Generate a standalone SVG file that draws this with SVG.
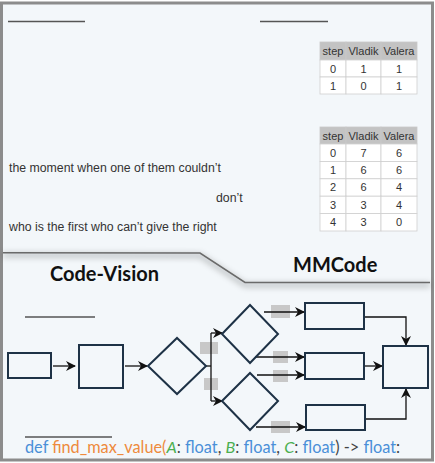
<svg xmlns="http://www.w3.org/2000/svg" width="435" height="463" viewBox="0 0 435 463">
<style>
.t{font-family:"Liberation Sans",Arial,sans-serif;font-size:12.3px;fill:#333}
.tb{font-family:"Liberation Sans",Arial,sans-serif;font-size:11px;fill:#333;text-anchor:middle}
.hd{fill:#c3c3c3;stroke:#c8c8c8;stroke-width:0.8}
.cl{fill:#fff;stroke:#cfcfcf;stroke-width:0.8}
.ul{stroke:#555;stroke-width:1.3}
.title{font-family:Lato,"Open Sans",sans-serif;font-weight:bold;font-size:20px;fill:#111}
.box{fill:none;stroke:#1e3246;stroke-width:2}
.cn{fill:none;stroke:#111;stroke-width:1.3}
.gb{fill:#c8c8c8}
.code{font-family:Lato,"Open Sans",sans-serif;font-size:16.3px}
</style>
<defs>
<marker id="ah" viewBox="0 0 10 10" refX="9" refY="5" markerWidth="10" markerHeight="10" markerUnits="userSpaceOnUse" orient="auto">
<path d="M0,0 L10,5 L0,10 L3,5 Z" fill="#111"/>
</marker>
<filter id="sh" x="-5%" y="-50%" width="110%" height="200%">
<feGaussianBlur stdDeviation="3"/>
</filter>
</defs>
<rect x="1.5" y="3" width="431" height="457" fill="#f3f7fa" stroke="#8c8c8c" stroke-width="3"/>

<g id="top-lines">
<line class="ul" x1="8" y1="21.5" x2="85" y2="21.5"/>
<line class="ul" x1="260" y1="21.5" x2="328" y2="21.5"/>
</g>

<g id="table1">
<rect class="hd" x="320" y="42" width="26" height="18"/>
<rect class="hd" x="346" y="42" width="35" height="18"/>
<rect class="hd" x="381" y="42" width="36" height="18"/>
<rect class="cl" x="320" y="60" width="26" height="17"/>
<rect class="cl" x="346" y="60" width="35" height="17"/>
<rect class="cl" x="381" y="60" width="36" height="17"/>
<rect class="cl" x="320" y="77" width="26" height="17"/>
<rect class="cl" x="346" y="77" width="35" height="17"/>
<rect class="cl" x="381" y="77" width="36" height="17"/>
<text class="tb" x="333" y="55">step</text><text class="tb" x="363.5" y="55">Vladik</text><text class="tb" x="399" y="55">Valera</text>
<text class="tb" x="333" y="72.5">0</text><text class="tb" x="363.5" y="72.5">1</text><text class="tb" x="399" y="72.5">1</text>
<text class="tb" x="333" y="89.5">1</text><text class="tb" x="363.5" y="89.5">0</text><text class="tb" x="399" y="89.5">1</text>
</g>

<g id="table2">
<rect class="hd" x="320" y="127" width="26" height="17"/>
<rect class="hd" x="346" y="127" width="35" height="17"/>
<rect class="hd" x="381" y="127" width="36" height="17"/>
<g>
<rect class="cl" x="320" y="144" width="26" height="17.4"/><rect class="cl" x="346" y="144" width="35" height="17.4"/><rect class="cl" x="381" y="144" width="36" height="17.4"/>
<rect class="cl" x="320" y="161.4" width="26" height="17.4"/><rect class="cl" x="346" y="161.4" width="35" height="17.4"/><rect class="cl" x="381" y="161.4" width="36" height="17.4"/>
<rect class="cl" x="320" y="178.8" width="26" height="17.4"/><rect class="cl" x="346" y="178.8" width="35" height="17.4"/><rect class="cl" x="381" y="178.8" width="36" height="17.4"/>
<rect class="cl" x="320" y="196.2" width="26" height="17.4"/><rect class="cl" x="346" y="196.2" width="35" height="17.4"/><rect class="cl" x="381" y="196.2" width="36" height="17.4"/>
<rect class="cl" x="320" y="213.6" width="26" height="17.4"/><rect class="cl" x="346" y="213.6" width="35" height="17.4"/><rect class="cl" x="381" y="213.6" width="36" height="17.4"/>
</g>
<text class="tb" x="333" y="139.5">step</text><text class="tb" x="363.5" y="139.5">Vladik</text><text class="tb" x="399" y="139.5">Valera</text>
<text class="tb" x="333" y="156.5">0</text><text class="tb" x="363.5" y="156.5">7</text><text class="tb" x="399" y="156.5">6</text>
<text class="tb" x="333" y="173.9">1</text><text class="tb" x="363.5" y="173.9">6</text><text class="tb" x="399" y="173.9">6</text>
<text class="tb" x="333" y="191.3">2</text><text class="tb" x="363.5" y="191.3">6</text><text class="tb" x="399" y="191.3">4</text>
<text class="tb" x="333" y="208.7">3</text><text class="tb" x="363.5" y="208.7">3</text><text class="tb" x="399" y="208.7">4</text>
<text class="tb" x="333" y="226.1">4</text><text class="tb" x="363.5" y="226.1">3</text><text class="tb" x="399" y="226.1">0</text>
</g>

<g id="texts">
<text class="t" x="9" y="172">the moment when one of them couldn’t</text>
<text class="t" x="216" y="202">don’t</text>
<text class="t" x="9" y="231">who is the first who can’t give the right</text>
</g>

<g id="divider">
<path d="M3,255 L200,255.5 L245,285 L430,285" fill="none" stroke="#000" stroke-opacity="0.35" stroke-width="3" filter="url(#sh)"/>
<path d="M3,252.7 L200,253 L245,282.5 L430,282.5" fill="none" stroke="#6a6a6a" stroke-width="1.5"/>
</g>
<g id="tab-codevision"><text class="title" x="50" y="281">Code-Vision</text></g>
<g id="tab-mmcode"><text class="title" x="293" y="272">MMCode</text></g>

<g id="bottom-lines">
<line class="ul" x1="25" y1="317" x2="95" y2="317"/>
<line class="ul" x1="25" y1="437" x2="112" y2="437"/>
</g>

<g id="gray-boxes">
<rect class="gb" x="200" y="342" width="18" height="12"/>
<rect class="gb" x="204" y="378" width="14" height="12"/>
<rect class="gb" x="271" y="305" width="19" height="13"/>
<rect class="gb" x="273" y="351" width="15" height="12"/>
<rect class="gb" x="273" y="370" width="15" height="12"/>
<rect class="gb" x="271" y="421" width="19" height="12"/>
</g>

<g id="connectors">
<line class="cn" x1="53" y1="366" x2="75" y2="366" marker-end="url(#ah)"/>
<line class="cn" x1="125" y1="366" x2="147" y2="366" marker-end="url(#ah)"/>
<line class="cn" x1="206" y1="366" x2="211" y2="366"/>
<line class="cn" x1="211" y1="333" x2="211" y2="401"/>
<line class="cn" x1="211" y1="333" x2="222" y2="333" marker-end="url(#ah)"/>
<line class="cn" x1="211" y1="401" x2="222" y2="401" marker-end="url(#ah)"/>
<line class="cn" x1="264" y1="312" x2="304" y2="312" marker-end="url(#ah)"/>
<line class="cn" x1="255" y1="357" x2="304" y2="357" marker-end="url(#ah)"/>
<line class="cn" x1="257" y1="375" x2="304" y2="375" marker-end="url(#ah)"/>
<line class="cn" x1="256" y1="427" x2="305" y2="427" marker-end="url(#ah)"/>
<line class="cn" x1="365" y1="366" x2="382" y2="366" marker-end="url(#ah)"/>
<polyline class="cn" points="364,317 406,317 406,345" marker-end="url(#ah)"/>
<polyline class="cn" points="365,419 406,419 406,389" marker-end="url(#ah)"/>
</g>

<g id="rect1"><rect class="box" x="8" y="353" width="43" height="25"/></g>
<g id="rect2"><rect class="box" x="79" y="345" width="44" height="43"/></g>
<g id="diamond1"><polygon class="box" points="148,366 177,338 206,366 177,394"/></g>
<g id="diamond2"><polygon class="box" points="222,334 250,305 278,334 250,363"/></g>
<g id="diamond3"><polygon class="box" points="222,401 250,373 278,401 250,430"/></g>
<g id="rect-top"><rect class="box" x="305" y="303" width="59" height="26"/></g>
<g id="rect-mid"><rect class="box" x="305" y="353" width="59" height="26"/></g>
<g id="rect-bot"><rect class="box" x="306" y="405" width="59" height="25"/></g>
<g id="rect-end"><rect class="box" x="383" y="346" width="45" height="42"/></g>

<g id="code">
<text class="code" x="25" y="453"><tspan fill="#4a8fd8">def </tspan><tspan fill="#ee8a3c">find_max_value(</tspan><tspan fill="#4caf50" font-style="italic">A</tspan><tspan fill="#444">: </tspan><tspan fill="#4a8fd8">float</tspan><tspan fill="#444">, </tspan><tspan fill="#4caf50" font-style="italic">B</tspan><tspan fill="#444">: </tspan><tspan fill="#4a8fd8">float</tspan><tspan fill="#444">, </tspan><tspan fill="#4caf50" font-style="italic">C</tspan><tspan fill="#444">: </tspan><tspan fill="#4a8fd8">float</tspan><tspan fill="#444">) -&gt; </tspan><tspan fill="#4a8fd8">float</tspan><tspan fill="#444">:</tspan></text>
</g>
</svg>
